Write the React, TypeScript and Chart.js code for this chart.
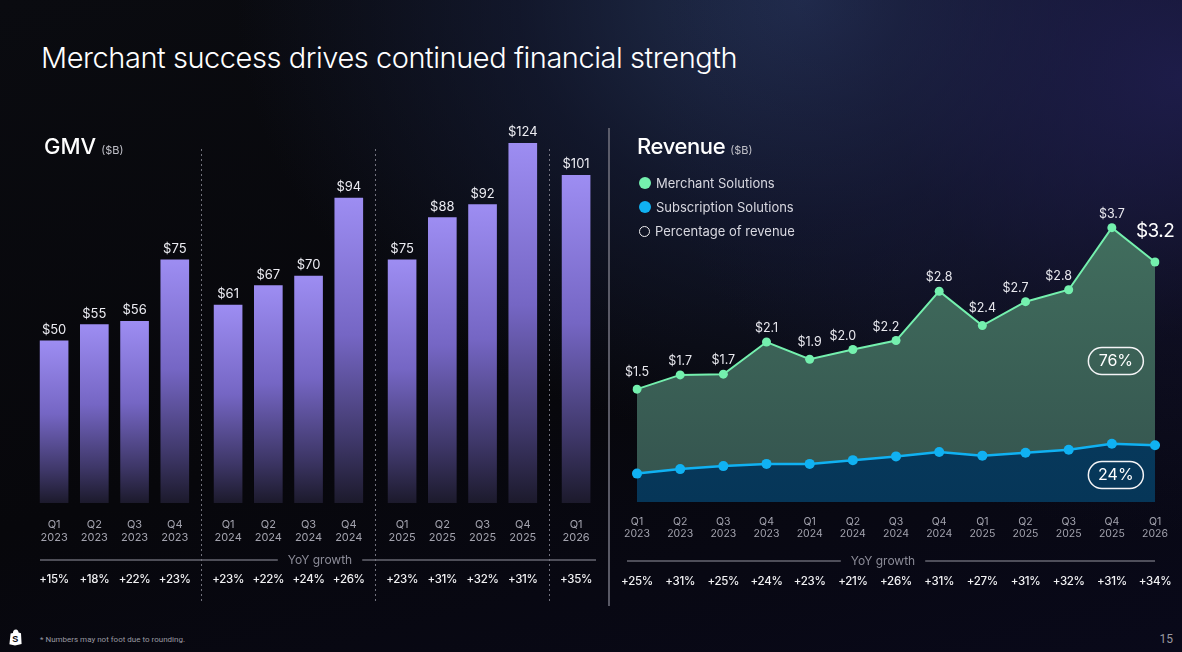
import React, { useEffect, useRef } from 'react';
import { Chart, registerables } from 'chart.js';

Chart.register(...registerables);

const FONT = 'Inter, "Noto Sans", sans-serif';

// ---------- GMV data ($B) ----------
const gmvQuarters = ['Q1', 'Q2', 'Q3', 'Q4', 'Q1', 'Q2', 'Q3', 'Q4', 'Q1', 'Q2', 'Q3', 'Q4', 'Q1'];
const gmvYears = ['2023', '2023', '2023', '2023', '2024', '2024', '2024', '2024', '2025', '2025', '2025', '2025', '2026'];
const gmvValues = [50, 55, 56, 75, 61, 67, 70, 94, 75, 88, 92, 124, 101];
const gmvGrowth = ['+15%', '+18%', '+22%', '+23%', '+23%', '+22%', '+24%', '+26%', '+23%', '+31%', '+32%', '+31%', '+35%'];

// ---------- Revenue data ($B) ----------
const revQuarters = ['Q1', 'Q2', 'Q3', 'Q4', 'Q1', 'Q2', 'Q3', 'Q4', 'Q1', 'Q2', 'Q3', 'Q4', 'Q1'];
const revYears = ['2023', '2023', '2023', '2023', '2024', '2024', '2024', '2024', '2025', '2025', '2025', '2025', '2026'];
const subscriptionSolutions = [0.38, 0.44, 0.48, 0.51, 0.51, 0.56, 0.61, 0.67, 0.62, 0.66, 0.70, 0.78, 0.76];
const merchantSolutions = [1.13, 1.26, 1.23, 1.63, 1.40, 1.48, 1.55, 2.15, 1.74, 2.02, 2.14, 2.89, 2.45];
const revenueGrowth = ['+25%', '+31%', '+25%', '+24%', '+23%', '+21%', '+26%', '+31%', '+27%', '+31%', '+32%', '+31%', '+34%'];

// layout constant: extra spacing between year groups (in bar slots)
const GROUP_GAP = 0.325;

const uniqueYears = Array.from(new Set(gmvYears));
const gmvGroup = gmvYears.map((y) => uniqueYears.indexOf(y));
const gmvX = gmvValues.map((_, i) => i + gmvGroup[i] * GROUP_GAP);
const revTotals = merchantSolutions.map((m, i) => Math.round((m + subscriptionSolutions[i]) * 100) / 100);

function drawYoY(
  ctx: CanvasRenderingContext2D,
  left: number,
  right: number,
  centerX: number,
  lineY: number,
  valuesY: number,
  xs: number[],
  values: string[]
) {
  ctx.save();
  ctx.font = `400 12px ${FONT}`;
  const label = 'YoY growth';
  const w = ctx.measureText(label).width;
  ctx.strokeStyle = 'rgba(120,120,130,0.85)';
  ctx.lineWidth = 1.5;
  ctx.beginPath();
  ctx.moveTo(left, lineY);
  ctx.lineTo(centerX - w / 2 - 10, lineY);
  ctx.moveTo(centerX + w / 2 + 10, lineY);
  ctx.lineTo(right, lineY);
  ctx.stroke();
  ctx.fillStyle = '#8c8c98';
  ctx.textAlign = 'center';
  ctx.textBaseline = 'middle';
  ctx.fillText(label, centerX, lineY);
  ctx.font = `500 11.5px ${FONT}`;
  (ctx as any).letterSpacing = '-0.3px';
  ctx.fillStyle = '#f2f2f4';
  values.forEach((v, i) => ctx.fillText(v, xs[i], valuesY));
  ctx.restore();
}

function GmvChart() {
  const ref = useRef<HTMLCanvasElement>(null);
  useEffect(() => {
    if (!ref.current) return;
    const barGradient = (c: any) => {
      const chart = c.chart;
      const area = chart.chartArea;
      if (!area || c.type !== 'data') return '#8b7be0';
      const ys = chart.scales.y;
      const top = Math.max(ys.getPixelForValue(c.parsed.y), area.top);
      const bottom = ys.getPixelForValue(0);
      const g = chart.ctx.createLinearGradient(0, top, 0, bottom);
      g.addColorStop(0, '#9d8df2');
      g.addColorStop(0.45, '#7566c4');
      g.addColorStop(0.8, '#3e3768');
      g.addColorStop(1, '#1c1a2c');
      return g;
    };
    const decor = {
      id: 'gmvDecor',
      beforeDatasetsDraw(chart: any) {
        const { ctx } = chart;
        const xs = chart.scales.x;
        ctx.save();
        ctx.strokeStyle = 'rgba(140,140,152,0.8)';
        ctx.lineWidth = 1;
        ctx.setLineDash([2, 3]);
        for (let i = 1; i < gmvX.length; i++) {
          if (gmvGroup[i] !== gmvGroup[i - 1]) {
            const px = Math.round(xs.getPixelForValue((gmvX[i] + gmvX[i - 1]) / 2)) + 0.5;
            ctx.beginPath();
            ctx.moveTo(px, 29);
            ctx.lineTo(px, 483);
            ctx.stroke();
          }
        }
        ctx.restore();
      },
      afterDatasetsDraw(chart: any) {
        const { ctx, chartArea } = chart;
        const xs = chart.scales.x;
        const ys = chart.scales.y;
        ctx.save();
        ctx.font = `400 13px ${FONT}`;
        ctx.fillStyle = '#ececf2';
        ctx.textAlign = 'center';
        ctx.textBaseline = 'middle';
        gmvValues.forEach((v, i) => {
          const top = Math.max(ys.getPixelForValue(v), chartArea.top);
          ctx.fillText(`$${v}`, xs.getPixelForValue(gmvX[i]), top - 11);
        });
        ctx.restore();
        const px = gmvX.map((v) => xs.getPixelForValue(v));
        drawYoY(ctx, 40, 596, 320, 440, 460, px, gmvGrowth);
      },
    };
    const chart = new Chart(ref.current, {
      type: 'bar',
      data: {
        datasets: [
          {
            data: gmvValues.map((v, i) => ({ x: gmvX[i], y: v })),
            backgroundColor: barGradient,
            borderWidth: 0,
            barThickness: 28,
            clip: 0,
          } as any,
        ],
      },
      options: {
        animation: false,
        responsive: false,
        devicePixelRatio: 1,
        layout: { padding: { top: 23, left: 36, right: 10, bottom: 0 } },
        plugins: { legend: { display: false }, tooltip: { enabled: false } },
        scales: {
          x: {
            type: 'linear',
            offset: false,
            min: -0.45,
            max: gmvX[gmvX.length - 1] + 0.45,
            grid: { display: false, drawTicks: false },
            border: { display: false },
            afterBuildTicks: (s: any) => {
              s.ticks = gmvX.map((v) => ({ value: v }));
            },
            afterFit: (s: any) => {
              s.height = 107;
            },
            ticks: {
              autoSkip: false,
              maxRotation: 0,
              padding: 15,
              color: '#a3a3ae',
              font: { family: FONT, size: 11, lineHeight: 1.18 },
              callback: (_v: any, i: number) => [gmvQuarters[i], gmvYears[i]],
            },
          } as any,
          y: { display: false, min: 0, max: 111 },
        },
      },
      plugins: [decor],
    });
    return () => chart.destroy();
  }, []);
  return (
    <canvas
      ref={ref}
      width={605}
      height={490}
      style={{ position: 'absolute', left: 0, top: 120, width: 605, height: 490 }}
    />
  );
}

function RevenueChart() {
  const ref = useRef<HTMLCanvasElement>(null);
  useEffect(() => {
    if (!ref.current) return;
    const areaGradient = (top: string, bottom: string) => (c: any) => {
      const chart = c.chart;
      const area = chart.chartArea;
      if (!area) return top;
      const g = chart.ctx.createLinearGradient(0, area.top, 0, area.bottom);
      g.addColorStop(0, top);
      g.addColorStop(1, bottom);
      return g;
    };
    const decor = {
      id: 'revDecor',
      afterDatasetsDraw(chart: any) {
        const { ctx, chartArea } = chart;
        const meta = chart.getDatasetMeta(1);
        const last = revTotals.length - 1;
        ctx.save();
        ctx.textAlign = 'center';
        ctx.textBaseline = 'middle';
        ctx.font = `400 12.5px ${FONT}`;
        ctx.fillStyle = '#e8e8ee';
        revTotals.forEach((t, i) => {
          if (i === last) return;
          const pt = meta.data[i];
          const prev = i > 0 ? revTotals[i - 1] : Infinity;
          const next = revTotals[i + 1];
          const valley = t < prev && t < next;
          const risingThrough = i > 0 && t - prev > 0.1 && next - t > 0.1;
          ctx.fillText(`$${t.toFixed(1)}`, pt.x - (risingThrough ? 10 : 0), pt.y - (valley ? 17 : 13.5));
        });
        const lp = meta.data[last];
        ctx.font = `400 19px ${FONT}`;
        (ctx as any).letterSpacing = '-0.6px';
        ctx.fillStyle = '#ffffff';
        ctx.textAlign = 'left';
        ctx.fillText(`$${revTotals[last].toFixed(1)}`, lp.x - 19, lp.y - 31);
        (ctx as any).letterSpacing = '0px';

        // share pills
        const mShare = Math.round((merchantSolutions[last] / revTotals[last]) * 100);
        const sShare = 100 - mShare;
        const cx = meta.data[last - 1].x + 4;
        const pills: [string, number][] = [
          [`${mShare}%`, chartArea.bottom - 141],
          [`${sShare}%`, chartArea.bottom - 27],
        ];
        ctx.textAlign = 'center';
        ctx.font = `400 16px ${FONT}`;
        pills.forEach(([txt, cy]) => {
          ctx.beginPath();
          (ctx as any).roundRect(cx - 27.5, cy - 13.5, 55, 27, 13.5);
          ctx.strokeStyle = '#f4f4f6';
          ctx.lineWidth = 1.5;
          ctx.stroke();
          ctx.fillStyle = '#ffffff';
          ctx.fillText(txt, cx, cy + 0.5);
        });
        ctx.restore();

        const xs = chart.scales.x;
        const px = revenueGrowth.map((_, i) => xs.getPixelForValue(i));
        drawYoY(ctx, 17, chartArea.right, 273, 441, 462, px, revenueGrowth);
      },
    };
    const chart = new Chart(ref.current, {
      type: 'line',
      data: {
        labels: revQuarters.map((q, i) => [q, revYears[i]]),
        datasets: [
          {
            label: 'Subscription Solutions',
            data: subscriptionSolutions,
            borderColor: '#10b1f2',
            borderWidth: 2.5,
            backgroundColor: areaGradient('#0a4268', '#063658'),
            fill: 'origin',
            pointRadius: 5,
            pointBackgroundColor: '#10b1f2',
            pointBorderWidth: 0,
            tension: 0,
          },
          {
            label: 'Merchant Solutions',
            data: merchantSolutions,
            borderColor: '#74f0ae',
            borderWidth: 2,
            backgroundColor: areaGradient('#42705f', '#34534e'),
            fill: '-1',
            pointRadius: 4.5,
            pointBackgroundColor: '#74f0ae',
            pointBorderWidth: 0,
            tension: 0,
          },
        ],
      },
      options: {
        animation: false,
        responsive: false,
        devicePixelRatio: 1,
        layout: { padding: { top: 83, left: 27, right: 25, bottom: 0 } },
        plugins: { legend: { display: false }, tooltip: { enabled: false } },
        scales: {
          x: {
            offset: false,
            grid: { display: false, drawTicks: false },
            border: { display: false },
            afterFit: (s: any) => {
              s.height = 108;
            },
            ticks: {
              autoSkip: false,
              maxRotation: 0,
              padding: 14,
              color: '#a3a3ae',
              font: { family: FONT, size: 10.5, lineHeight: 1.15 },
            },
          } as any,
          y: { display: false, stacked: true, min: 0, max: 4 },
        },
      },
      plugins: [decor],
    });
    return () => chart.destroy();
  }, []);
  return (
    <canvas
      ref={ref}
      width={572}
      height={490}
      style={{ position: 'absolute', left: 610, top: 120, width: 572, height: 490 }}
    />
  );
}

function LegendItem({ color, hollow, text }: { color: string; hollow?: boolean; text: string }) {
  return (
    <div style={{ display: 'flex', alignItems: 'center', height: 24 }}>
      <span
        style={{
          width: hollow ? 9 : 12,
          height: hollow ? 9 : 12,
          borderRadius: '50%',
          background: hollow ? 'transparent' : color,
          border: hollow ? '1.5px solid #f0f0f0' : 'none',
          marginRight: 5,
          display: 'inline-block',
        }}
      />
      <span style={{ fontSize: 13, color: '#d8d8e0' }}>{text}</span>
    </div>
  );
}

export default function App() {
  useEffect(() => {
    document.body.style.margin = '0';
    document.body.style.background = '#050507';
  }, []);
  return (
    <div
      style={{
        position: 'fixed',
        left: 0,
        top: 0,
        width: 1182,
        height: 652,
        overflow: 'hidden',
        fontFamily: FONT,
        background:
          'radial-gradient(ellipse 45% 70% at 100% 12%, rgba(32,30,80,0.85) 0%, rgba(24,24,60,0.4) 55%, rgba(0,0,0,0) 100%),' +
          'radial-gradient(ellipse 60% 85% at 68% 0%, rgba(36,50,84,0.95) 0%, rgba(24,32,62,0.6) 40%, rgba(10,12,24,0) 80%),' +
          'linear-gradient(165deg, #0a0b10 0%, #07070b 55%, #09091a 100%)',
      }}
    >
      <GmvChart />
      <RevenueChart />

      <div
        style={{
          position: 'absolute',
          left: 41,
          top: 43,
          fontSize: 29,
          lineHeight: '29px',
          fontWeight: 300,
          letterSpacing: -0.45,
          color: '#ffffff',
          whiteSpace: 'nowrap',
        }}
      >
        Merchant success drives continued financial strength
      </div>

      <div style={{ position: 'absolute', left: 44, top: 135, lineHeight: '22px', whiteSpace: 'nowrap', color: '#fff' }}>
        <span style={{ fontSize: 22, fontWeight: 500 }}>GMV</span>
        <span style={{ fontSize: 11, color: '#c0c0c8', marginLeft: 5 }}>($B)</span>
      </div>

      <div style={{ position: 'absolute', left: 637, top: 135, lineHeight: '22px', whiteSpace: 'nowrap', color: '#fff' }}>
        <span style={{ fontSize: 22, fontWeight: 500, letterSpacing: -0.4 }}>Revenue</span>
        <span style={{ fontSize: 11, color: '#c0c0c8', marginLeft: 5 }}>($B)</span>
      </div>

      <div style={{ position: 'absolute', left: 639, top: 171 }}>
        <LegendItem color="#74f0ae" text="Merchant Solutions" />
        <LegendItem color="#10b1f2" text="Subscription Solutions" />
        <LegendItem color="#fff" hollow text="Percentage of revenue" />
      </div>

      <div
        style={{
          position: 'absolute',
          left: 608,
          top: 128,
          width: 1.5,
          height: 478,
          background: 'rgba(110,110,122,0.8)',
        }}
      />

      <svg style={{ position: 'absolute', left: 9, top: 629 }} width={13} height={17} viewBox="0 0 13 17">
        <path d="M4 4 C4 1 6 0.5 7 0.5 C8.5 0.5 9.5 2 9.6 3.6 L12 4.2 L12.6 15 L6 16.6 L0.4 15.2 L1.6 4.6 Z" fill="#ffffff" />
        <text x="6.3" y="13.2" fontSize="9" fontWeight="700" fill="#050507" textAnchor="middle" fontFamily="Arial, sans-serif">
          S
        </text>
      </svg>

      <div
        style={{
          position: 'absolute',
          left: 40,
          top: 634,
          fontSize: 8,
          lineHeight: '12px',
          color: '#9a9aa2',
          fontFamily: '"Liberation Sans Narrow", "Roboto", sans-serif',
          whiteSpace: 'nowrap',
        }}
      >
        * Numbers may not foot due to rounding.
      </div>
      <div
        style={{
          position: 'absolute',
          right: 9,
          top: 632,
          fontSize: 12,
          lineHeight: '14px',
          color: '#9a9aa2',
          fontFamily: '"Liberation Sans Narrow", "Roboto", sans-serif',
        }}
      >
        15
      </div>
    </div>
  );
}
